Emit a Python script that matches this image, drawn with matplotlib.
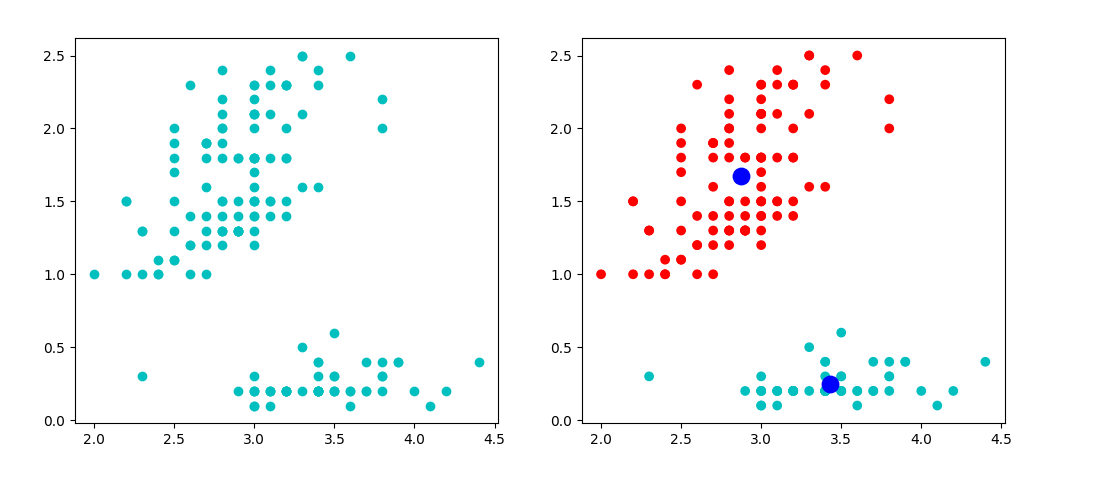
import numpy as np
import matplotlib
matplotlib.use("Agg")
import matplotlib.pyplot as plt

# iris: sepal width (x) vs petal width (y)
sepal_width = [
    3.5, 3.0, 3.2, 3.1, 3.6, 3.9, 3.4, 3.4, 2.9, 3.1,
    3.7, 3.4, 3.0, 3.0, 4.0, 4.4, 3.9, 3.5, 3.8, 3.8,
    3.4, 3.7, 3.6, 3.3, 3.4, 3.0, 3.4, 3.5, 3.4, 3.2,
    3.1, 3.4, 4.1, 4.2, 3.1, 3.2, 3.5, 3.6, 3.0, 3.4,
    3.5, 2.3, 3.2, 3.5, 3.8, 3.0, 3.8, 3.2, 3.7, 3.3,
    3.2, 3.2, 3.1, 2.3, 2.8, 2.8, 3.3, 2.4, 2.9, 2.7,
    2.0, 3.0, 2.2, 2.9, 2.9, 3.1, 3.0, 2.7, 2.2, 2.5,
    3.2, 2.8, 2.5, 2.8, 2.9, 3.0, 2.8, 3.0, 2.9, 2.6,
    2.4, 2.4, 2.7, 2.7, 3.0, 3.4, 3.1, 2.3, 3.0, 2.5,
    2.6, 3.0, 2.6, 2.3, 2.7, 3.0, 2.9, 2.9, 2.5, 2.8,
    3.3, 2.7, 3.0, 2.9, 3.0, 3.0, 2.5, 2.9, 2.5, 3.6,
    3.2, 2.7, 3.0, 2.5, 2.8, 3.2, 3.0, 3.8, 2.6, 2.2,
    3.2, 2.8, 2.8, 2.7, 3.3, 3.2, 2.8, 3.0, 2.8, 3.0,
    2.8, 3.8, 2.8, 2.8, 2.6, 3.0, 3.4, 3.1, 3.0, 3.1,
    3.1, 3.1, 2.7, 3.2, 3.3, 3.0, 2.5, 3.0, 3.4, 3.0,
]
petal_width = [
    0.2, 0.2, 0.2, 0.2, 0.2, 0.4, 0.3, 0.2, 0.2, 0.1,
    0.2, 0.2, 0.1, 0.1, 0.2, 0.4, 0.4, 0.3, 0.3, 0.3,
    0.2, 0.4, 0.2, 0.5, 0.2, 0.2, 0.4, 0.2, 0.2, 0.2,
    0.2, 0.4, 0.1, 0.2, 0.2, 0.2, 0.2, 0.1, 0.2, 0.2,
    0.3, 0.3, 0.2, 0.6, 0.4, 0.3, 0.2, 0.2, 0.2, 0.2,
    1.4, 1.5, 1.5, 1.3, 1.5, 1.3, 1.6, 1.0, 1.3, 1.4,
    1.0, 1.5, 1.0, 1.4, 1.3, 1.4, 1.5, 1.0, 1.5, 1.1,
    1.8, 1.3, 1.5, 1.2, 1.3, 1.4, 1.4, 1.7, 1.5, 1.0,
    1.1, 1.0, 1.2, 1.6, 1.5, 1.6, 1.5, 1.3, 1.3, 1.3,
    1.2, 1.4, 1.2, 1.0, 1.3, 1.2, 1.3, 1.3, 1.1, 1.3,
    2.5, 1.9, 2.1, 1.8, 2.2, 2.1, 1.7, 1.8, 1.8, 2.5,
    2.0, 1.9, 2.1, 2.0, 2.4, 2.3, 1.8, 2.2, 2.3, 1.5,
    2.3, 2.0, 2.0, 1.8, 2.1, 1.8, 1.8, 1.8, 2.1, 1.6,
    1.9, 2.0, 2.2, 1.5, 1.4, 2.3, 2.4, 1.8, 1.8, 2.1,
    2.4, 2.3, 1.9, 2.3, 2.5, 2.3, 1.9, 2.0, 2.3, 1.8,
]
# two-cluster assignment (first 50 rows -> cluster 0)
cluster_labels = [0] * 50 + [1] * 100
cluster_colors = ["c", "r"]

x = np.array(sepal_width)
y = np.array(petal_width)
labels = np.array(cluster_labels)

centers = np.array([[x[labels == k].mean(), y[labels == k].mean()] for k in (0, 1)])

fig, (ax1, ax2) = plt.subplots(1, 2, figsize=(11.1, 4.78), dpi=100)
fig.subplots_adjust(left=0.0676, right=0.905, bottom=0.115, top=0.9205, wspace=0.199)

ax1.scatter(x, y, c="c")

ax2.scatter(x, y, c=[cluster_colors[k] for k in labels])
ax2.scatter(centers[:, 0], centers[:, 1], c="b", s=140)

fig.savefig("out.png")
